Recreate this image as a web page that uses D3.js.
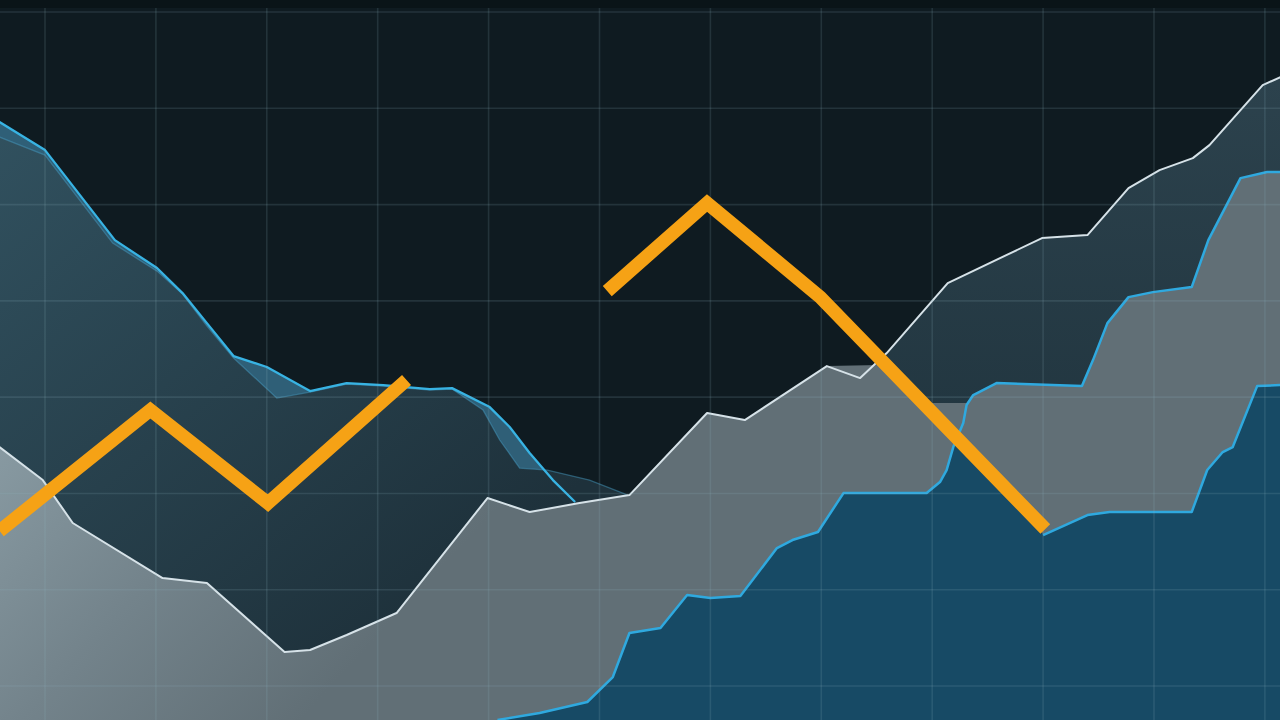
<!DOCTYPE html>
<html><head><meta charset="utf-8">
<script src="https://cdn.jsdelivr.net/npm/d3@7"></script>
<style>html,body{margin:0;padding:0;background:#0f1b21;overflow:hidden}svg{display:block}</style>
</head><body><svg id="chart" width="1280" height="720"></svg>
<script>
// ---------- data (x in period units, y in value units) ----------
const gridX = [0,1,2,3,4,5,6,7,8,9,10,11];
const gridY = [0,10,20,30,40,50,60,70];

// cyan-edged slate area
const seriesA = [[-0.41,58.57],[0,55.66],[0.63,46.31],[1.01,43.41],[1.24,40.81],[1.46,37.69],[1.70,34.27],[2.00,33.13],[2.39,30.63],[2.72,31.46],[3.05,31.26],[3.47,30.84],[3.67,30.94],[4.01,28.97],[4.19,26.90],[4.37,24.20],[4.58,21.39],[4.78,19.11]];
// companion (shadow) series of A
const seriesA2 = [[-0.41,57.01],[0,55.14],[0.61,46.00],[1.01,43.09],[1.24,40.71],[1.46,37.38],[1.70,34.06],[2.09,29.91],[2.39,30.53],[2.72,31.36],[3.05,31.15],[3.47,30.74],[3.67,30.84],[3.95,28.66],[4.10,25.55],[4.28,22.64],[4.53,22.43],[4.91,21.39],[5.21,20.04],[5.29,19.63]];
// white-edged series
const seriesB = [[-0.41,24.82],[-0.02,21.39],[0.25,16.93],[1.06,11.21],[1.46,10.70],[2.16,3.53],[2.39,3.74],[2.72,5.30],[3.17,7.58],[3.99,19.52],[4.37,18.07],[4.82,19.00],[5.27,19.83],[5.97,28.35],[6.31,27.62],[7.05,33.23],[7.35,31.98],[7.59,34.58],[8.14,41.85],[8.99,46.52],[9.40,46.83],[9.77,51.71],[10.05,53.58],[10.35,54.83],[10.50,56.18],[10.98,62.41],[11.14,63.24]];
// grey band (upper part after the white series leaves it)
const seriesG = [[7.05,33.23],[7.53,33.33],[7.96,29.39],[8.31,29.39],[8.37,30.22],[8.58,31.46],[9.35,31.15],[9.45,33.85],[9.58,37.69],[9.77,40.39],[9.99,40.91],[10.34,41.43],[10.49,46.31],[10.78,52.75],[11.02,53.38],[11.14,53.38]];
// blue-edged series (lower)
const seriesD = [[4.08,-3.53],[4.46,-2.80],[4.89,-1.66],[5.12,0.93],[5.27,5.50],[5.55,6.02],[5.79,9.45],[6.00,9.14],[6.27,9.35],[6.60,14.33],[6.74,15.16],[6.97,15.99],[7.20,20.04],[7.95,20.04],[8.07,21.18],[8.13,22.43],[8.19,24.82],[8.28,27.31],[8.31,29.18],[8.37,30.22],[8.58,31.46],[9.35,31.15],[9.45,33.85],[9.58,37.69],[9.77,40.39],[9.99,40.91],[10.34,41.43],[10.49,46.31],[10.78,52.75],[11.02,53.38],[11.14,53.38]];
// hidden joint of the dark-blue fill (under the orange line)
const seriesDJoin = [[8.23,25.96],[8.97,16.51]];
// second blue edge at the right
const seriesE = [[9.00,15.68],[9.40,17.76],[9.60,18.07],[10.34,18.07],[10.48,22.43],[10.62,24.30],[10.71,24.82],[10.93,31.15],[11.14,31.26]];
// orange highlighted series (gap = missing values)
const seriesOrange = [[-0.41,16.10],[0.95,28.66],[2.01,19.00],[3.26,31.78],[4.2,null],[5.07,41.02],[5.97,50.16],[6.99,40.39],[9.02,16.30]];

// ---------- drawing ----------
const W = 1280, H = 720;
const svg = d3.select('#chart');
const x = d3.scaleLinear().domain([-0.4058, 11.1362]).range([0, W]);
const y = d3.scaleLinear().domain([-3.53, 71.25]).range([H, 0]);

const defs = svg.append('defs');
function lin(id, x1, y1, x2, y2, stops) {
  const g = defs.append('linearGradient').attr('id', id).attr('gradientUnits', 'userSpaceOnUse')
    .attr('x1', x1).attr('y1', y1).attr('x2', x2).attr('y2', y2);
  stops.forEach(s => g.append('stop').attr('offset', s[0]).attr('stop-color', s[1]));
}
lin('gA2', 0, 120, 420, 620, [[0, '#31515f'], [1, '#1e313b']]);
lin('gB', 0, 80, 0, 520, [[0, '#2c424d'], [1, '#1f333d']]);
lin('gG', 0, 440, 300, 720, [[0, '#889aa2'], [0.5, '#73838b'], [1, '#616f76']]);

svg.append('rect').attr('width', W).attr('height', H).attr('fill', '#0f1b21');
svg.append('rect').attr('width', W).attr('height', 8).attr('fill', '#0a1418');

const area = d3.area().x(d => x(d[0])).y0(H).y1(d => y(d[1]));
const line = d3.line().x(d => x(d[0])).y(d => y(d[1])).defined(d => d[1] !== null);

const dArea = seriesD.slice(0, 18).concat(seriesDJoin, seriesE);
const gArea = seriesB.filter(d => d[0] < 7.05).concat(seriesG);

// A
svg.append('path').datum(seriesA).attr('d', area).attr('fill', '#2f5f77');
svg.append('path').datum(seriesA2).attr('d', area).attr('fill', 'url(#gA2)');
svg.append('path').datum(seriesA2).attr('d', line).attr('fill', 'none')
  .attr('stroke', 'rgba(70,160,200,0.45)').attr('stroke-width', 1.3);
svg.append('path').datum(seriesA).attr('d', line).attr('fill', 'none')
  .attr('stroke', '#38b3e3').attr('stroke-width', 2.3).attr('stroke-linejoin', 'round');

// B and grey band
svg.append('path').datum(seriesB).attr('d', area).attr('fill', 'url(#gB)');
svg.append('path').datum(gArea).attr('d', area).attr('fill', 'url(#gG)');
svg.append('path').datum(seriesB).attr('d', line).attr('fill', 'none')
  .attr('stroke', '#d6e2e8').attr('stroke-width', 2).attr('stroke-linejoin', 'round');

// D dark blue
svg.append('path').datum(dArea).attr('d', area).attr('fill', '#174a65');
[seriesD, seriesE].forEach(s => {
  svg.append('path').datum(s).attr('d', line).attr('fill', 'none')
    .attr('stroke', '#2fa9df').attr('stroke-width', 2.5).attr('stroke-linejoin', 'round');
});

// grid
const grid = svg.append('g').attr('stroke', 'rgba(140,180,195,0.16)').attr('stroke-width', 1.6);
grid.selectAll('line.v').data(gridX).join('line').attr('class', 'v')
  .attr('x1', d => x(d)).attr('x2', d => x(d)).attr('y1', 8).attr('y2', H);
grid.selectAll('line.h').data(gridY).join('line').attr('class', 'h')
  .attr('x1', 0).attr('x2', W).attr('y1', d => y(d)).attr('y2', d => y(d));

// orange
svg.append('path').datum(seriesOrange).attr('d', line).attr('fill', 'none')
  .attr('stroke', '#f6a215').attr('stroke-width', 13.5)
  .attr('stroke-linejoin', 'miter').attr('stroke-linecap', 'butt');
</script></body></html>
